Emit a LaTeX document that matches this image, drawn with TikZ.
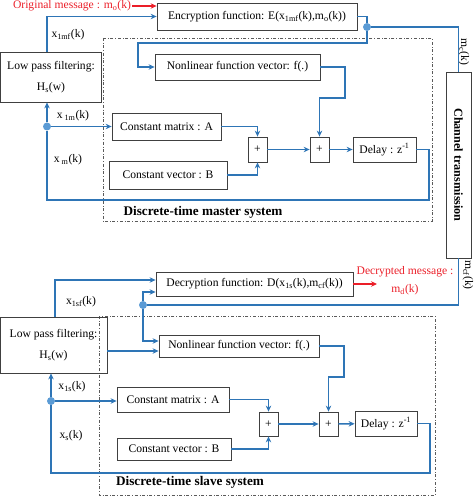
\documentclass[tikz,border=0pt]{standalone}
\usepackage{fontspec}
\setmainfont{Liberation Serif}
\usetikzlibrary{arrows.meta}
\definecolor{lineblue}{RGB}{46,117,182}
\definecolor{dotblue}{RGB}{91,155,213}
\definecolor{boxgray}{RGB}{64,64,64}
\definecolor{framegray}{RGB}{90,90,90}
\definecolor{msgred}{RGB}{235,30,40}
\tikzset{
  blk/.style={draw=boxgray,line width=0.8pt,inner sep=1pt,align=center},
  sig/.style={inner sep=1pt},
  msg/.style={text=msgred,inner sep=1pt,align=center},
  wire/.style={draw=lineblue,line width=1.6pt},
  flow/.style={wire,->},
  redflow/.style={draw=msgred,line width=1.6pt,->},
  tap/.style={circle,fill=dotblue,inner sep=0pt,minimum size=8pt},
  sysframe/.style={draw=framegray,dash dot,line width=0.6pt},
  systitle/.style={font=\fontsize{13.2}{15}\selectfont\bfseries,inner sep=1pt}
}
\begin{document}
\begin{tikzpicture}[x=1pt,y=-1pt,>={Stealth[length=6pt,width=5.5pt]},line join=miter,font=\fontsize{11.6}{14}\selectfont]
\useasboundingbox (0,0) rectangle (474,497);
% master
\draw[sysframe] (103,38) rectangle (432,221);
\node[systitle] (mtitle) at (203,212) {Discrete-time master system};
\node[msg] (orig) at (72,6) {Original message : m\textsubscript{o}(k)};
\node[blk,minimum width=200pt,minimum height=27pt] (enc) at (257,16.5) {Encryption function: E(x\textsubscript{1mf}(k),m\textsubscript{o}(k))};
\node[blk,minimum width=101pt,minimum height=50pt] (lpfm) at (51,77) {Low pass filtering:\\[7pt]H\textsubscript{s}(w)};
\node[blk,minimum width=165pt,minimum height=26pt] (nlm) at (237.5,67) {Nonlinear function vector: f(.)};
\node[blk,minimum width=109pt,minimum height=27pt] (cam) at (166.5,126.5) {Constant matrix : A};
\node[blk,minimum width=118pt,minimum height=28pt] (cbm) at (168,175) {Constant vector : B};
\node[blk,minimum width=19pt,minimum height=25pt] (p1m) at (257.5,149.5) {+};
\node[blk,minimum width=19pt,minimum height=25pt] (p2m) at (319.5,149.5) {+};
\node[blk,minimum width=63pt,minimum height=25pt] (dlm) at (384.5,149.5) {Delay : z\textsuperscript{-1}};
\node[blk,minimum width=186pt,minimum height=25pt,rotate=-90,font=\fontsize{12.2}{14}\selectfont\bfseries] (ch) at (458.5,165) {Channel transmission};
\node[tap] (dotm) at (367,27) {};
\node[tap] (dotlm) at (47,126.5) {};
\coordinate (bm1) at (138,43);
\coordinate (bm2) at (345,98);
\coordinate (bm3) at (429,200);
\node[sig] (lx1mf) at (68,35) {x\textsubscript{1mf}(k)};
\node[sig] (lx1m) at (73,116) {x\,\textsubscript{1m}(k)};
\node[sig] (lxm) at (68,160) {x\,\textsubscript{m}(k)};
\node[sig,rotate=-90] (lmc) at (464,52) {m\textsubscript{c}(k)};
\draw[redflow] (orig.east) -- (orig.east -| enc.west);
\draw[flow] ([xshift=-4pt]lpfm.north) |- (enc.west);
\draw[wire] (enc.east) -| (dotm);
\draw[wire] (dotm) -| (ch.west);
\draw[flow] (dotm) |- (bm1) |- (nlm.west);
\draw[flow] (nlm.east) -| (bm2) -| (p2m.north);
\draw[flow] (cam.east) -| (p1m.north);
\draw[flow] (cbm.east) -| (p1m.south);
\draw[flow] (p1m) -- (p2m);
\draw[flow] (p2m) -- (dlm);
\draw[wire] (dlm.east) -| (bm3) -| (dotlm);
\draw[flow] (dotlm) -- (dotlm |- lpfm.south);
\draw[flow] (dotlm) -- (dotlm -| cam.west);
% slave
\draw[sysframe] (99,316) rectangle (435,495);
\node[systitle] (stitle) at (190,482) {Discrete-time slave system};
\node[blk,minimum width=197pt,minimum height=24pt] (dec) at (254.5,284) {Decryption function: D(x\textsubscript{1s}(k),m\textsubscript{cf}(k))};
\node[msg] (dmsg) at (405,281) {Decrypted message :\\[4pt]m\textsubscript{d}(k)};
\node[blk,minimum width=107pt,minimum height=56pt] (lpfs) at (53.5,345) {Low pass filtering:\\[7pt]H\textsubscript{s}(w)};
\node[blk,minimum width=160pt,minimum height=22pt] (nls) at (239,346) {Nonlinear function vector: f(.)};
\node[blk,minimum width=112pt,minimum height=25pt] (cas) at (173,399.5) {Constant matrix : A};
\node[blk,minimum width=114pt,minimum height=22pt] (cbs) at (174,449) {Constant vector : B};
\node[blk,minimum width=19pt,minimum height=24pt] (p1s) at (268.5,424) {+};
\node[blk,minimum width=19pt,minimum height=24pt] (p2s) at (328.5,424) {+};
\node[blk,minimum width=62pt,minimum height=25pt] (dls) at (386,423.5) {Delay : z\textsuperscript{-1}};
\node[tap] (dots) at (143,305) {};
\node[tap] (dotls) at (51,401) {};
\coordinate (dtip) at (377,284);
\coordinate (bs1) at (107,351);
\coordinate (bs2) at (344,377);
\coordinate (bs3) at (430,473);
\node[sig] (lx1sf) at (81,302) {x\textsubscript{1sf}(k)};
\node[sig] (lx1s) at (72,387) {x\textsubscript{1s}(k)};
\node[sig] (lxs) at (71,436) {x\textsubscript{s}(k)};
\node[sig,rotate=-90] (lmcf) at (468,275) {m\textsubscript{cf}(k)};
\draw[wire] (ch.east) |- (dots);
\draw[flow] ([xshift=1.5pt]lpfs.north) |- ([yshift=4pt]dec.west);
\draw[flow] (dots) |- ([yshift=-8pt]dec.west);
\draw[flow] (dots) |- ([yshift=5pt]nls.west);
\draw[flow] (bs1) -- (bs1 -| nls.west);
\draw[redflow] (dec.east) -- (dtip);
\draw[flow] (nls.east) -| (bs2) -| (p2s.north);
\draw[flow] (cas.east) -| (p1s.north);
\draw[flow] (cbs.east) -| (p1s.south);
\draw[flow] (p1s) -- (p2s);
\draw[flow] (p2s) -- (dls);
\draw[wire] (dls.east) -| (bs3) -| (dotls);
\draw[flow] (dotls) -- (dotls |- lpfs.south);
\draw[flow] (dotls) -- (dotls -| cas.west);
\end{tikzpicture}
\end{document}
